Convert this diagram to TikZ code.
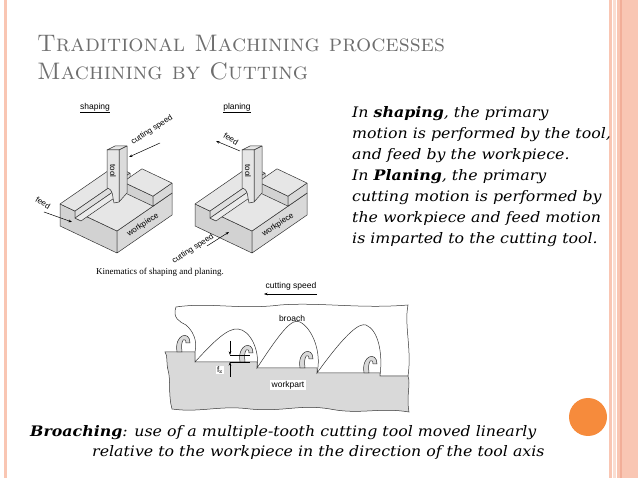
\documentclass[tikz,border=0pt]{standalone}
\usepackage{fontspec}
\newfontfamily\sans{Liberation Sans}
\newfontfamily\serif{Liberation Serif}
\newfontfamily\bodyfont[FakeStretch=1.09]{DejaVu Serif}
\usetikzlibrary{arrows.meta}
\definecolor{stripe}{HTML}{F9C6B3}
\definecolor{stripedark}{HTML}{F2AE98}
\definecolor{dot}{HTML}{F68B3C}
\definecolor{titlegray}{HTML}{6E6E6E}
\definecolor{blk}{HTML}{E6E6E6}
\definecolor{blkside}{HTML}{D2D2D2}
\definecolor{wp}{HTML}{D9D9D9}
\tikzset{
  lbl/.style={font=\sans\fontsize{8}{9}\selectfont, inner sep=0.5pt},
  body/.style={font=\bodyfont\itshape\fontsize{14.5}{18}\selectfont, anchor=base west, inner sep=0},
  face/.style={draw=black!80, line width=0.5pt, line join=round},
  arr/.style={-{Stealth[length=3.5pt,width=2.5pt]}, line width=0.5pt},
}
\begin{document}
\begin{tikzpicture}[x=1pt,y=-1pt]
\useasboundingbox (0,0) rectangle (638,478);
% slide decorations
\fill[stripe] (4,0) rectangle (7,478);
\fill[stripe] (609,0) rectangle (612,478);
\fill[stripe!60] (613,0) rectangle (616,478);
\fill[stripe] (617,0) rectangle (638,478);
\fill[stripedark] (620,0) rectangle (622,478);
\fill[dot] (588,417) circle (19);
% title
\node[anchor=base west, inner sep=0, text=titlegray, font=\fontsize{23.9}{28}\selectfont] (t1) at (37,52) {\textsc{Traditional Machining processes}};
\node[anchor=base west, inner sep=0, text=titlegray, font=\fontsize{23.9}{28}\selectfont] (t2) at (37,80) {\textsc{Machining by Cutting}};
% right text
\node[body] (r1) at (352,118) {In \textbf{shaping}, the primary};
\node[body] (r2) at (352,139) {motion is performed by the tool,};
\node[body] (r3) at (352,160) {and feed by the workpiece.};
\node[body] (r4) at (352,181) {In \textbf{Planing}, the primary};
\node[body] (r5) at (352,202) {cutting motion is performed by};
\node[body] (r6) at (352,223) {the workpiece and feed motion};
\node[body] (r7) at (352,244) {is imparted to the cutting tool.};
% bottom text
\node[body] (b1) at (30,437) {\textbf{Broaching}: use of a multiple-tooth cutting tool moved linearly};
\node[body] (b2) at (92,457) {relative to the workpiece in the direction of the tool axis};

% ---- blocks ----
\foreach \dx in {0,135}{
\begin{scope}[shift={(117+\dx,253)}, x={(-1pt,0.474pt)}, y={(1pt,0.69pt)}, z={(0pt,1pt)}]
 \filldraw[face, fill=blkside] (0,0,0)--(57,0,0)--(57,0,22)--(42,0,22)--(42,0,15)--(36,0,15)--(36,0,22)--(0,0,22)--cycle;
 \filldraw[face, fill=blkside!85] (0,0,0)--(0,55,0)--(0,55,22)--(0,0,22)--cycle;
 \filldraw[face, fill=blk] (0,0,22)--(36,0,22)--(36,55,22)--(0,55,22)--cycle;
 \filldraw[face, fill=blk] (42,0,22)--(57,0,22)--(57,55,22)--(42,55,22)--cycle;
 \filldraw[face, fill=blkside!70] (42,0,15)--(42,55,15)--(42,55,22)--(42,0,22)--cycle;
 \filldraw[face, fill=blk!80] (36,0,15)--(42,0,15)--(42,55,15)--(36,55,15)--cycle;
 \filldraw[face, fill=blkside] (0,36,22)--(30,36,22)--(30,36,32)--(0,36,32)--cycle;
 \filldraw[face, fill=blkside!85] (0,36,22)--(0,55,22)--(0,55,32)--(0,36,32)--cycle;
 \filldraw[face, fill=blk] (0,36,32)--(30,36,32)--(30,55,32)--(0,55,32)--cycle;
\end{scope}
% tool
\filldraw[face, fill=blk] (107+\dx,150)--(115+\dx,146)--(127+\dx,146)--(119+\dx,150)--cycle;
\filldraw[face, fill=blkside!80] (119+\dx,150)--(127+\dx,146)--(127+\dx,193)--(119+\dx,202)--cycle;
\filldraw[face, fill=blk] (107+\dx,150)--(119+\dx,150)--(119+\dx,202)--(114+\dx,203) .. controls (112+\dx,196) and (114+\dx,190) .. (107+\dx,188)--cycle;
\node[lbl, rotate=-90] (tool\dx) at (113+\dx,171) {tool};
}
% labels shaping
\node[lbl, font=\sans\fontsize{8.5}{9}\selectfont] (shp) at (95,108) {\underline{shaping}};
\node[lbl, font=\sans\fontsize{8.5}{9}\selectfont] (plg) at (237,108) {\underline{planing}};
\node[lbl, rotate=33] (cs1) at (152,130) {cutting speed};
\coordinate (cs1a) at (160,143);
\coordinate (cs1b) at (129,157);
\draw[arr] (cs1a) -- (cs1b);
\node[lbl, rotate=-30] (fd1) at (43,203) {feed};
\coordinate (fd1a) at (44,212);
\coordinate (fd1b) at (72,222);
\draw[arr] (fd1a) -- (fd1b);
\node[lbl, rotate=33] (wp1) at (143,225) {workpiece};
\node[lbl, rotate=-30] (fd2) at (231,139) {feed};
\coordinate (fd2a) at (240,151);
\coordinate (fd2b) at (216,141);
\draw[arr] (fd2a) -- (fd2b);
\node[lbl, rotate=33] (wp2) at (278,225) {workpiece};
\node[lbl, rotate=33] (cs2) at (193,249) {cutting speed};
\coordinate (cs2a) at (207,246);
\coordinate (cs2b) at (229,232);
\draw[arr] (cs2a) -- (cs2b);
\node[font=\serif\fontsize{9}{10}\selectfont, inner sep=0] (cap) at (160,272) {Kinematics of shaping and planing.};

% ---- broach ----
\node[lbl, font=\sans\fontsize{8.5}{9}\selectfont] (csb) at (291,286) {cutting speed};
\coordinate (csba) at (317,294);
\coordinate (csbb) at (264,294);
\draw[arr, line width=0.4pt] (csba) -- (csbb);
% workpart
\filldraw[fill=wp, draw=black!80, line width=0.5pt]
 (165,352) -- (195,352) -- (195,362) -- (257,362) -- (257,368) -- (317,368) -- (317,373) -- (380,373) -- (380,376) -- (408,376)
 .. controls (411,385) and (406,395) .. (409,412)
 .. controls (380,407) and (360,415) .. (330,409) .. controls (300,404) and (285,412) .. (250,409)
 .. controls (220,405) and (200,413) .. (172,409)
 .. controls (168,395) and (171,380) .. (168,370) .. controls (166,362) and (168,356) .. (165,352) -- cycle;
% broach
\filldraw[fill=white, draw=black!80, line width=0.5pt]
 (176,307) .. controls (210,302) and (240,310) .. (280,305) .. controls (320,302) and (360,309) .. (408,305)
 .. controls (404,325) and (412,350) .. (408,376) -- (380,376)
 .. controls (383,352) and (378,330) .. (366,325) .. controls (360,323) and (348,330) .. (317,373)
 .. controls (322,352) and (312,328) .. (300,322) .. controls (292,318) and (282,330) .. (257,368)
 .. controls (260,350) and (250,330) .. (238,329) .. controls (228,328) and (215,340) .. (195,362)
 -- (195,352) .. controls (198,340) and (192,330) .. (186,325) .. controls (180,322) and (172,318) .. (176,307) -- cycle;
% chips
\foreach \x/\y in {191/352,254/362,314/368,378/373}{
 \filldraw[fill=wp, draw=black!80, line width=0.5pt]
  (\x-14,\y) .. controls (\x-17,\y-18) and (\x-1,\y-22) .. (\x-1,\y-9) -- (\x-5,\y-9)
  .. controls (\x-5,\y-15) and (\x-11,\y-14) .. (\x-9,\y) -- cycle;
}
\node[lbl, font=\sans\fontsize{8.5}{9}\selectfont] (brn) at (292,318) {broach};
\node[lbl, fill=white, inner sep=1.5pt, font=\sans\fontsize{8.5}{9}\selectfont] (wpn) at (288,385) {workpart};
% fz
\coordinate (fzl1a) at (230,355);
\coordinate (fzl1b) at (250,355);
\draw[line width=0.4pt] (fzl1a) -- (fzl1b);
\coordinate (fzl2a) at (230,362);
\coordinate (fzl2b) at (250,362);
\draw[line width=0.4pt] (fzl2a) -- (fzl2b);
\coordinate (fza) at (230,341);
\coordinate (fzb) at (230,355);
\draw[arr, line width=0.4pt] (fza) -- (fzb);
\coordinate (fzc) at (230,377);
\coordinate (fzd) at (230,362);
\draw[arr, line width=0.4pt] (fzc) -- (fzd);
\node[lbl, fill=white, inner sep=1pt, font=\sans\fontsize{8}{9}\selectfont] (fz) at (220,370) {f$_\mathrm{z}$};
\end{tikzpicture}
\end{document}
